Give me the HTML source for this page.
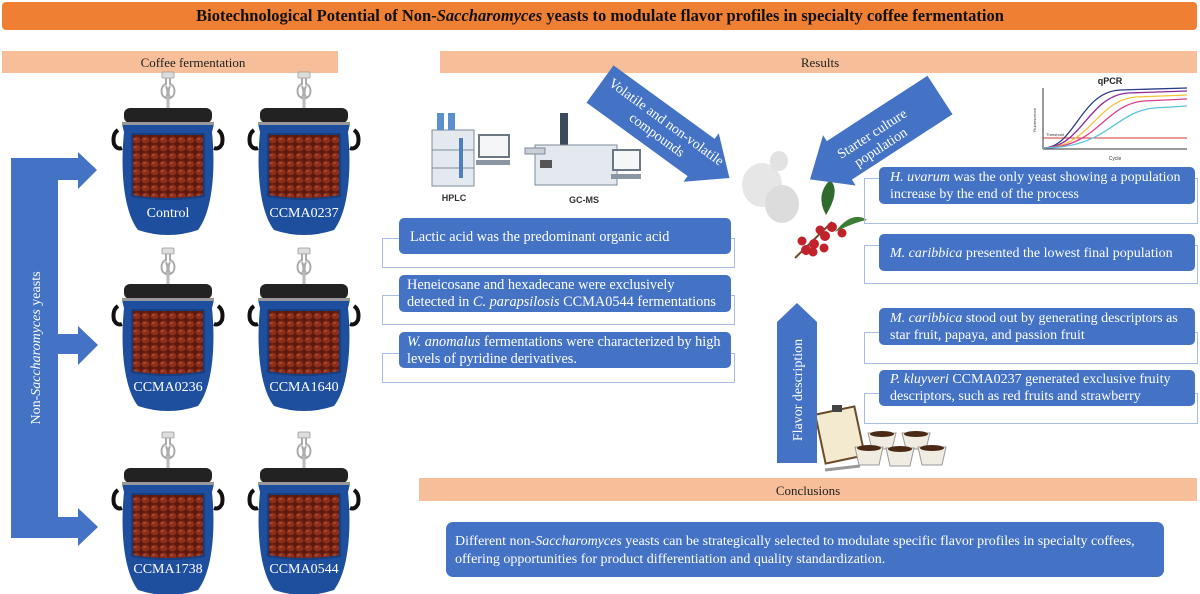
<!DOCTYPE html>
<html><head><meta charset="utf-8"><style>
html,body{margin:0;padding:0;background:#fff;width:1200px;height:594px;overflow:hidden}
svg{display:block}
.s{font-family:"Liberation Serif",serif}
.w{fill:#fff;font-family:"Liberation Serif",serif;font-size:14px}
.a{font-family:"Liberation Sans",sans-serif}
</style></head><body>
<svg width="1200" height="594" viewBox="0 0 1200 594" xmlns="http://www.w3.org/2000/svg">
<defs>
<pattern id="beans" width="9" height="8" patternUnits="userSpaceOnUse">
<rect width="9" height="8" fill="#5a1a0e"/>
<ellipse cx="4.5" cy="4" rx="4" ry="3.4" fill="#8e2e1a"/>
<ellipse cx="3.5" cy="3" rx="1.5" ry="1" fill="#a84a30"/>
</pattern>
<g id="barrel">
<rect x="-6" y="0" width="12" height="6" rx="1" fill="#ddd" stroke="#999" stroke-width="0.8"/>
<path d="M-2 6 v6 c-6 2 -6 12 0 14 c2 -3 2 -8 0 -12 M2 6 v6 c6 2 6 12 0 14 c-2 -3 -2 -8 0 -12" fill="none" stroke="#aaa" stroke-width="2"/>
<rect x="-1.5" y="24" width="3" height="12" fill="#bbb"/>
<path d="M-46 52 L-44 60 C-48 100 -44 140 -30 158 Q0 168 30 158 C44 140 48 100 44 60 L46 52 Z" fill="#1e4f9e"/>
<path d="M-36 62 h72 v62 q-36 6 -72 0 Z" fill="url(#beans)" stroke="#173f80" stroke-width="2"/>
<path d="M-50 58 q-6 4 -4 14 q3 6 8 4 M50 58 q6 4 4 14 q-3 6 -8 4" fill="none" stroke="#111" stroke-width="4"/>
<rect x="-44" y="36" width="88" height="15" rx="6" fill="#222"/>
<rect x="-46" y="50" width="92" height="3" fill="#999"/>
</g>
</defs>

<rect x="2" y="2" width="1195" height="28" rx="4" fill="#ee7f33"/>
<text x="600" y="21" text-anchor="middle" class="s" font-size="16.5" font-weight="bold" fill="#111">Biotechnological Potential of Non-<tspan font-style="italic">Saccharomyces</tspan> yeasts to modulate flavor profiles in specialty coffee fermentation</text>

<rect x="2" y="51" width="336" height="22" fill="#f6bf9a"/>
<text x="193" y="67" text-anchor="middle" class="s" font-size="13" fill="#222">Coffee fermentation</text>
<rect x="440" y="51" width="757" height="22" fill="#f6bf9a"/>
<text x="820" y="67" text-anchor="middle" class="s" font-size="13" fill="#222">Results</text>
<rect x="419" y="478" width="778" height="23" fill="#f6bf9a"/>
<text x="808" y="495" text-anchor="middle" class="s" font-size="13" fill="#222">Conclusions</text>

<g fill="#4472c4">
<rect x="11" y="158" width="47" height="380"/>
<rect x="11" y="158" width="68" height="22"/>
<polygon points="78,152 97,170 78,189"/>
<rect x="50" y="334" width="29" height="20"/>
<polygon points="78,326 98,345 78,365"/>
<rect x="50" y="517" width="29" height="21"/>
<polygon points="78,508 98,527 78,546"/>
</g>
<text transform="translate(40,348) rotate(-90)" text-anchor="middle" class="w" font-size="14">Non-<tspan font-style="italic">Saccharomyces</tspan> yeasts</text>

<use href="#barrel" x="168" y="72"/>
<use href="#barrel" x="304" y="72"/>
<use href="#barrel" x="168" y="248"/>
<use href="#barrel" x="304" y="248"/>
<use href="#barrel" x="168" y="432"/>
<use href="#barrel" x="304" y="432"/>
<g class="s" font-size="14" fill="#fff" text-anchor="middle">
<text x="168" y="217">Control</text><text x="304" y="217">CCMA0237</text>
<text x="168" y="391">CCMA0236</text><text x="304" y="391">CCMA1640</text>
<text x="168" y="573">CCMA1738</text><text x="304" y="573">CCMA0544</text>
</g>

<g>
<rect x="432" y="130" width="42" height="56" fill="#e4e9ef" stroke="#7d8a99"/>
<line x1="432" y1="150" x2="474" y2="150" stroke="#7d8a99"/><line x1="432" y1="168" x2="474" y2="168" stroke="#7d8a99"/>
<rect x="437" y="113" width="7" height="17" fill="#5a8fd0"/><rect x="448" y="113" width="7" height="17" fill="#5a8fd0"/>
<rect x="459" y="138" width="4" height="40" fill="#4a7fc0"/>
<rect x="479" y="135" width="30" height="22" fill="#f4f6f8" stroke="#6b7785" stroke-width="2"/>
<rect x="476" y="160" width="34" height="5" fill="#8a96a4"/>
<text x="454" y="201" text-anchor="middle" class="a" font-size="9" font-weight="bold" fill="#333">HPLC</text>
</g>
<g>
<rect x="560" y="113" width="8" height="32" fill="#3a4a5c"/>
<rect x="535" y="145" width="82" height="40" fill="#e4e9ef" stroke="#7d8a99"/>
<rect x="525" y="148" width="20" height="6" fill="#c9d0d8" stroke="#7d8a99"/>
<rect x="540" y="160" width="12" height="8" fill="#555"/>
<rect x="613" y="150" width="27" height="20" fill="#f4f6f8" stroke="#6b7785" stroke-width="2"/>
<rect x="611" y="174" width="30" height="5" fill="#8a96a4"/>
<text x="584" y="203" text-anchor="middle" class="a" font-size="9" font-weight="bold" fill="#333">GC-MS</text>
</g>

<g>
<text x="1110" y="84" text-anchor="middle" class="a" font-size="9" font-weight="bold" fill="#222">qPCR</text>
<line x1="1043" y1="88" x2="1043" y2="149" stroke="#333"/>
<line x1="1043" y1="149" x2="1187" y2="149" stroke="#333"/>
<line x1="1043" y1="138" x2="1187" y2="138" stroke="#d33" stroke-width="1"/>
<text x="1046" y="136" class="a" font-size="4" fill="#333">Threshold</text>
<text x="1036" y="120" class="a" font-size="4" fill="#333" transform="rotate(-90 1036 120)" text-anchor="middle">Fluorescence</text>
<text x="1115" y="160" class="a" font-size="5" text-anchor="middle" fill="#333">Cycle</text>
<g fill="none" stroke-width="1.3">
<path d="M1043 148 C1075 148 1080 92 1120 90 L1187 88" stroke="#2b3a8c"/>
<path d="M1043 148 C1082 148 1088 96 1128 93 L1187 91" stroke="#8e2c9a"/>
<path d="M1043 148 C1090 148 1096 100 1136 97 L1187 95" stroke="#f2c43a"/>
<path d="M1043 148 C1098 148 1104 104 1144 101 L1187 99" stroke="#e0408a"/>
<path d="M1043 148 C1108 148 1114 112 1154 108 L1187 106" stroke="#5bc4df"/>
</g>
</g>

<g>
<ellipse cx="762" cy="185" rx="20" ry="22" fill="#e6e6e6"/>
<ellipse cx="782" cy="204" rx="17" ry="19" fill="#dcdcdc"/>
<ellipse cx="779" cy="161" rx="9" ry="10" fill="#e2e2e2"/>
<path d="M826 215 q15 -25 4 -35 q-15 15 -4 35 Z" fill="#2f6b2c"/>
<path d="M835 232 q20 -10 32 -12 q-15 -10 -32 12 Z" fill="#3e7d35"/>
<path d="M795 258 L832 222" stroke="#6b4a2a" stroke-width="2"/>
<g fill="#c0222a">
<circle cx="814" cy="244" r="5"/><circle cx="825" cy="236" r="5"/><circle cx="832" cy="227" r="5"/><circle cx="820" cy="230" r="4.5"/>
<circle cx="806" cy="250" r="5"/><circle cx="813" cy="252" r="4.5"/><circle cx="802" cy="241" r="4.5"/><circle cx="824" cy="248" r="4.5"/><circle cx="842" cy="233" r="4.5"/>
</g>
</g>

<g>
<rect x="820" y="410" width="40" height="50" fill="#f4ead0" stroke="#6b4a2a" stroke-width="2" transform="rotate(-12 840 435)"/>
<rect x="832" y="405" width="10" height="7" fill="#444"/>
<g fill="#f1ece2" stroke="#999">
<path d="M868 433 h28 l-4 16 h-20 Z"/><path d="M902 433 h28 l-4 16 h-20 Z"/>
<path d="M855 447 h28 l-4 18 h-20 Z"/><path d="M886 448 h28 l-4 18 h-20 Z"/><path d="M918 447 h28 l-4 18 h-20 Z"/>
</g>
<g fill="#4a2a14"><ellipse cx="882" cy="434" rx="12" ry="3"/><ellipse cx="916" cy="434" rx="12" ry="3"/><ellipse cx="869" cy="448" rx="12" ry="3"/><ellipse cx="900" cy="449" rx="12" ry="3"/><ellipse cx="932" cy="448" rx="12" ry="3"/></g>
<path d="M825 470 L860 466" stroke="#999" stroke-width="3"/>
</g>

<g fill="#4472c4">
<polygon transform="translate(600,84) rotate(36)" points="0,-23 125,-23 125,-30 160,0 125,30 125,23 0,23"/>
<polygon transform="translate(940,95) rotate(147)" points="0,-23 120,-23 120,-30 155,0 120,30 120,23 0,23"/>
<polygon points="777,322 797,303 817,322 817,463 777,463"/>
</g>
<text transform="translate(662,128) rotate(36)" text-anchor="middle" class="w" font-size="13"><tspan x="0" y="-3">Volatile and non-volatile</tspan><tspan x="0" y="13">compounds</tspan></text>
<text transform="translate(876,140) rotate(-33)" text-anchor="middle" class="w" font-size="13"><tspan x="0" y="-3">Starter culture</tspan><tspan x="0" y="13">population</tspan></text>
<text transform="translate(802,390) rotate(-90)" text-anchor="middle" class="w" font-size="13">Flavor description</text>

<g fill="none" stroke="#a9bde3" stroke-width="1">
<rect x="382.5" y="238.5" width="352" height="29"/>
<rect x="382.5" y="295.5" width="352" height="29"/>
<rect x="382.5" y="353.5" width="352" height="29"/>
<rect x="864.5" y="178.5" width="333" height="45"/>
<rect x="864.5" y="245.5" width="333" height="38"/>
<rect x="864.5" y="332.5" width="333" height="31"/>
<rect x="864.5" y="393.5" width="333" height="30"/>
</g>
<g fill="#4472c4">
<rect x="399" y="218" width="332" height="36" rx="5"/>
<rect x="399" y="275" width="332" height="37" rx="5"/>
<rect x="399" y="332" width="332" height="36" rx="5"/>
<rect x="879" y="167" width="316" height="37" rx="5"/>
<rect x="879" y="234" width="316" height="37" rx="5"/>
<rect x="879" y="308" width="316" height="37" rx="5"/>
<rect x="879" y="370" width="316" height="36" rx="5"/>
<rect x="446" y="522" width="718" height="55" rx="7"/>
</g>
<g class="w" font-size="14">
<g font-size="14.3">
<text x="410" y="241">Lactic acid was the predominant organic acid</text>
<text x="407" y="289">Heneicosane and hexadecane were exclusively</text>
<text x="407" y="306">detected in <tspan font-style="italic">C. parapsilosis</tspan> CCMA0544 fermentations</text>
<text x="407" y="346"><tspan font-style="italic">W. anomalus</tspan> fermentations were characterized by high</text>
<text x="407" y="363">levels of pyridine derivatives.</text>
</g>
<text x="890" y="181"><tspan font-style="italic">H. uvarum</tspan> was the only yeast showing a population</text>
<text x="890" y="198">increase by the end of the process</text>
<text x="890" y="257"><tspan font-style="italic">M. caribbica</tspan> presented the lowest final population</text>
<text x="890" y="322"><tspan font-style="italic">M. caribbica</tspan> stood out by generating descriptors as</text>
<text x="890" y="339">star fruit, papaya, and passion fruit</text>
<text x="890" y="383"><tspan font-style="italic">P. kluyveri</tspan> CCMA0237 generated exclusive fruity</text>
<text x="890" y="400">descriptors, such as red fruits and strawberry</text>
<text x="455" y="545">Different non-<tspan font-style="italic">Saccharomyces</tspan> yeasts can be strategically selected to modulate specific flavor profiles in specialty coffees,</text>
<text x="455" y="563">offering opportunities for product differentiation and quality standardization.</text>
</g>
</svg>
</body></html>
